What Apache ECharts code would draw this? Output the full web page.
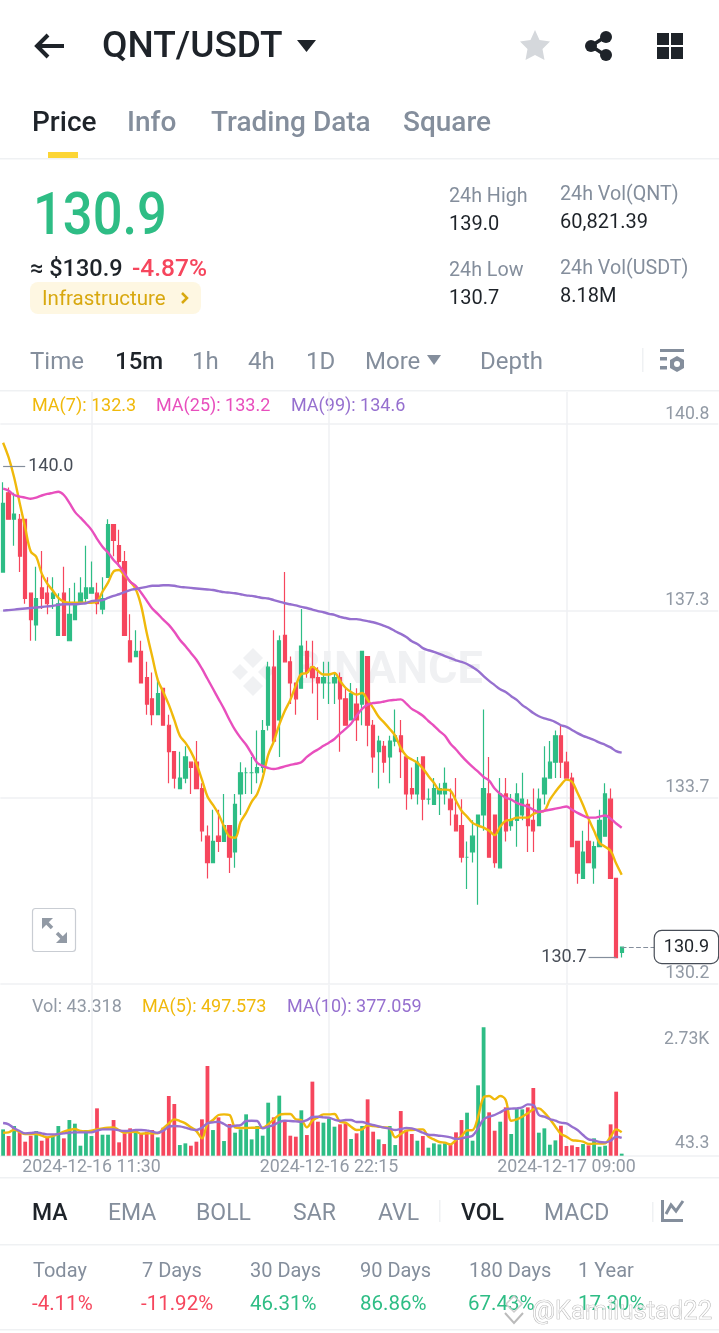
<!DOCTYPE html>
<html>
<head>
<meta charset="utf-8">
<title>QNT/USDT</title>
<style>
html, body { margin: 0; padding: 0; background: #fff; }
#chart { width: 719px; height: 1333px; }
</style>
<script src="https://cdn.jsdelivr.net/npm/echarts@6/dist/echarts.min.js"></script>
</head>
<body>
<div id="chart"></div>
<script>
// 15m candles
var opens = [138.0,139.5,139.0,139.0,139.0,137.6,137.0,137.7,137.6,137.5,136.8,137.6,136.7,137.1,137.4,137.5,137.6,137.6,137.3,137.9,138.9,138.5,138.2,136.7,136.4,136.5,136.0,135.6,135.3,135.8,135.1,134.6,133.9,134.1,134.4,134.4,133.9,133.0,132.5,133.0,132.9,133.2,132.7,133.8,134.2,134.2,134.2,134.3,135.1,136.2,135.2,136.8,136.3,135.9,135.8,136.5,136.2,136.0,135.9,135.9,135.9,136.0,135.6,135.2,135.5,135.5,136.4,135.1,134.6,134.7,134.5,134.8,134.9,134.5,133.9,133.8,134.5,133.7,133.6,133.8,133.8,133.7,133.4,133.2,132.6,132.7,133.2,133.4,133.8,133.4,132.4,133.8,133.2,133.3,133.4,133.6,133.3,133.2,133.8,134.1,134.4,134.9,134.4,134.1,132.9,132.2,132.9,132.4,132.8,133.0,133.7,132.2,130.8];
var closes = [139.3,139.0,139.1,138.3,137.5,137.1,137.5,137.5,137.4,137.6,137.4,136.8,137.2,137.4,137.6,137.7,137.7,137.4,137.5,138.9,138.6,138.2,136.8,136.3,136.5,135.9,135.5,135.3,135.7,135.1,134.6,134.1,134.1,134.5,134.3,133.9,133.1,132.5,132.9,132.9,133.2,132.6,133.6,134.2,134.2,134.2,134.3,135.0,136.2,134.8,136.7,136.3,135.9,135.6,136.6,136.1,136.0,135.9,136.0,135.9,136.0,135.6,135.1,135.7,135.2,136.5,135.1,134.5,134.8,134.4,134.8,134.9,134.6,133.8,133.8,134.4,133.7,133.7,133.9,133.9,134.0,133.5,133.1,132.6,132.6,133.0,133.4,133.9,132.6,132.5,133.8,133.1,133.3,133.8,133.7,133.2,133.1,133.7,134.1,134.4,134.9,134.4,134.1,132.8,132.3,132.7,132.5,132.8,133.3,133.8,132.2,130.7,130.9];
var lows = [138.0,139.0,138.5,138.0,137.4,136.7,136.7,137.3,137.2,137.3,136.8,136.8,136.7,137.1,137.4,137.4,137.6,137.2,137.2,137.9,138.3,138.1,136.8,136.3,136.4,135.9,135.3,135.1,135.3,135.1,134.0,133.9,133.9,134.0,133.8,133.9,132.9,132.2,132.5,132.7,132.9,132.3,132.4,133.4,133.8,133.8,134.0,134.2,135.0,134.8,134.5,136.3,135.5,135.3,135.8,136.0,135.7,135.2,135.6,135.5,135.5,134.6,135.1,135.2,134.8,135.1,134.7,134.2,133.9,134.2,134.0,134.7,134.1,133.5,133.7,133.6,133.3,133.6,133.6,133.4,133.6,133.2,133.1,132.5,132.0,132.5,131.7,133.1,132.6,132.4,132.4,132.9,133.1,132.8,133.3,132.7,132.7,133.2,133.6,134.1,134.1,134.1,134.1,132.8,132.1,132.2,132.5,132.1,132.8,133.0,132.2,130.7,130.7];
var highs = [139.7,139.6,139.5,139.1,139.0,137.6,138.1,138.4,137.9,137.9,137.6,138.1,137.7,137.8,137.9,138.5,138.2,137.8,137.9,139.0,138.9,138.8,138.4,137.2,136.9,136.7,136.3,136.1,136.0,135.8,135.3,134.6,134.6,134.7,134.4,134.8,134.0,133.2,133.5,133.5,133.8,133.2,133.8,134.4,134.3,134.5,135.0,135.2,136.3,136.9,136.8,138.0,136.4,135.9,137.3,136.7,136.7,136.2,136.3,136.3,136.1,136.1,135.8,135.9,135.8,136.5,136.4,135.2,134.9,134.8,134.9,135.4,135.2,134.5,134.3,134.5,134.5,133.9,134.1,134.0,134.3,133.9,134.1,133.7,132.9,133.3,133.4,135.4,134.5,133.4,134.1,134.1,133.8,134.0,134.2,133.7,133.9,133.9,134.7,134.8,135.0,135.1,134.6,134.2,132.9,133.1,133.3,132.9,133.5,134.0,133.9,132.2,130.9];

var ma7 = [140.45,140.17,139.79,139.31,138.84,138.39,138.29,137.97,137.78,137.65,137.51,137.44,137.42,137.42,137.42,137.42,137.42,137.44,137.63,137.80,138.01,138.04,137.93,137.82,137.68,137.36,136.85,136.40,135.96,135.73,135.49,135.20,134.90,134.77,134.60,134.37,134.07,133.75,133.59,133.42,133.18,132.99,132.97,133.27,133.44,133.65,133.80,134.10,134.54,134.79,135.11,135.37,135.58,135.85,136.07,136.09,136.21,136.13,136.06,136.06,136.09,135.94,135.81,135.73,135.68,135.71,135.58,135.43,135.26,135.15,135.03,134.90,134.67,134.52,134.45,134.39,134.28,134.14,134.01,133.88,133.88,133.86,133.67,133.48,133.37,133.25,133.20,133.16,133.10,133.02,133.18,133.29,133.31,133.35,133.35,133.35,133.42,133.46,133.48,133.69,133.84,133.97,134.07,134.03,133.82,133.59,133.33,133.10,132.87,132.80,132.72,132.48,132.27];
var ma25 = [139.58,139.54,139.46,139.43,139.41,139.39,139.41,139.45,139.48,139.50,139.52,139.46,139.31,139.14,139.03,138.92,138.80,138.63,138.48,138.37,138.23,138.12,137.97,137.82,137.74,137.61,137.46,137.31,137.21,137.10,137.00,136.87,136.72,136.60,136.47,136.34,136.17,135.98,135.79,135.60,135.41,135.20,135.01,134.86,134.73,134.56,134.39,134.33,134.29,134.27,134.29,134.32,134.35,134.37,134.40,134.50,134.58,134.64,134.71,134.77,134.84,134.94,135.03,135.13,135.28,135.41,135.49,135.52,135.53,135.55,135.57,135.58,135.59,135.51,135.41,135.35,135.28,135.18,135.09,134.99,134.90,134.75,134.64,134.52,134.41,134.31,134.22,134.12,134.05,133.90,133.80,133.73,133.69,133.63,133.59,133.56,133.50,133.46,133.48,133.50,133.52,133.54,133.56,133.50,133.44,133.39,133.35,133.35,133.37,133.39,133.33,133.24,133.16];
var ma99 = [137.27,137.28,137.29,137.30,137.31,137.32,137.33,137.34,137.35,137.36,137.38,137.39,137.39,137.39,137.40,137.41,137.45,137.46,137.47,137.51,137.55,137.58,137.62,137.66,137.68,137.70,137.72,137.74,137.74,137.75,137.75,137.74,137.72,137.71,137.70,137.69,137.68,137.67,137.66,137.64,137.62,137.61,137.60,137.58,137.56,137.55,137.53,137.51,137.50,137.47,137.44,137.41,137.39,137.37,137.34,137.32,137.29,137.26,137.24,137.21,137.19,137.15,137.13,137.11,137.11,137.09,137.07,137.05,137.02,136.98,136.94,136.88,136.83,136.77,136.69,136.64,136.56,136.52,136.49,136.45,136.41,136.37,136.33,136.30,136.26,136.20,136.13,136.03,135.94,135.86,135.78,135.73,135.65,135.58,135.48,135.41,135.33,135.27,135.23,135.20,135.16,135.10,135.07,135.01,134.95,134.90,134.86,134.82,134.77,134.73,134.68,134.61,134.58];

var volumes = [558,417,629,523,297,424,523,318,403,417,629,368,756,679,212,544,417,1004,445,445,756,283,474,580,488,474,509,544,389,594,1266,1096,226,262,212,297,771,1902,544,813,311,672,488,558,877,346,629,424,1124,813,1273,756,424,403,962,438,1570,721,700,792,615,665,686,354,474,629,1195,509,346,247,629,226,947,544,460,318,417,170,262,240,262,226,495,756,912,318,1492,2722,919,530,721,1025,460,997,983,1025,1435,488,580,233,325,636,205,219,184,247,219,368,191,212,665,1357,43.3];
var volMa5 = [488,495,551,502,460,460,460,424,389,417,460,509,544,566,523,516,530,559,580,594,601,544,488,502,509,467,474,474,474,580,686,771,735,686,601,523,368,672,756,863,877,863,601,587,587,594,594,594,665,771,863,884,884,771,756,601,742,813,877,877,884,721,700,615,544,559,643,629,615,601,580,389,460,530,544,551,559,403,346,290,276,240,332,417,537,544,827,1237,1266,1195,1266,1181,742,771,827,898,983,1004,912,778,615,460,403,332,318,297,247,255,255,262,403,559,497.573];
var volMa10 = [693,665,580,523,474,481,495,474,452,452,460,474,488,495,495,495,495,530,559,559,559,537,523,530,544,544,537,509,488,530,615,629,622,594,559,544,594,686,707,721,672,615,636,650,735,742,735,580,615,650,714,742,735,728,721,756,820,827,813,806,764,742,756,756,714,714,679,650,622,594,573,544,566,587,580,537,488,445,438,424,410,389,354,368,396,424,580,771,827,863,919,983,997,1004,1025,1089,1075,863,827,778,742,700,686,615,544,438,346,325,290,283,318,403,377.059];

var priceTicks = [130.2, 133.73, 137.27, 140.8];
var volTicks = [43.3, 2730];
var timeTicks = [16, 59, 102]; // 11:30, 22:15, 09:00

var totalSlots = 130; // the empty ones leave room on the right of the last candle
var startTime = Date.UTC(2024, 11, 16, 7, 30);

var RED = '#f6465d', GREEN = '#2ebd85', INK = '#1e2329', GREY = '#848e9c', AXIS = '#929aa5', LINE = '#eff1f3';
var YELLOW = '#f0b90b', PINK = '#e84fbd', PURPLE = '#9670cf';
var FONT = 'Roboto';

function pad(n) { return (n < 10 ? '0' : '') + n; }

var categories = [];
for (var i = 0; i < totalSlots; i++) {
	var d = new Date(startTime + i * 900000);
	categories.push(d.getUTCFullYear() + '-' + pad(d.getUTCMonth() + 1) + '-' + pad(d.getUTCDate()) + ' ' + pad(d.getUTCHours()) + ':' + pad(d.getUTCMinutes()));
}

function isTimeTick(idx) { return timeTicks.indexOf(idx) >= 0; }

var candles = opens.map(function(o, i) { return [o, closes[i], lows[i], highs[i]]; });
var volumeBars = volumes.map(function(v, i) {
	return { value: v, itemStyle: { color: closes[i] >= opens[i] ? GREEN : RED } };
});

function text(x, y, str, size, color, weight) {
	return {
		type: 'text', x: x, y: y + 4, silent: true,
		style: { text: str, fontSize: size, fill: color, fontWeight: weight || 400, fontFamily: FONT, verticalAlign: 'middle' }
	};
}
function rect(x, y, w, h, color, r) {
	return { type: 'rect', silent: true, shape: { x: x, y: y, width: w, height: h, r: r || 0 }, style: { fill: color } };
}
function poly(points, color) {
	return { type: 'polygon', silent: true, shape: { points: points }, style: { fill: color } };
}
function stroke(points, color, width) {
	return { type: 'polyline', silent: true, shape: { points: points }, style: { stroke: color, lineWidth: width, fill: null } };
}
function dot(x, y, r, color) {
	return { type: 'circle', silent: true, shape: { cx: x, cy: y, r: r }, style: { fill: color } };
}
function row(y, items, size) {
	return items.map(function(it) { return text(it[0], y, it[1], size, it[2], it[3]); });
}

var bigPrice = text(33, 215, '130.9', 60, GREEN, 500);
bigPrice.scaleX = 0.875;

var chrome = [
	// behind the candles
	poly([[253,648],[263,658],[253,668],[243,658]], '#f0f1f3'),
	poly([[253,676],[263,686],[253,696],[243,686]], '#f0f1f3'),
	poly([[240,664],[248,672],[240,680],[232,672]], '#f0f1f3'),
	poly([[266,664],[274,672],[266,680],[258,672]], '#f0f1f3'),
	text(292, 668, 'BINANCE', 45, '#f0f1f3', 700),

	// header
	stroke([[64,46],[37,46]], INK, 4),
	stroke([[48,35],[37,46],[48,57]], INK, 4),
	text(102, 44, 'QNT/USDT', 37, INK, 500),
	poly([[297,40],[316,40],[306.5,52]], INK),
	poly([[535,30],[539.5,40],[550,41.5],[542.5,49],[544.5,60],[535,55],[525.5,60],[527.5,49],[520,41.5],[530.5,40]], '#d5d8dc'),
	stroke([[605,37],[591,46],[605,55]], INK, 3.5),
	dot(606, 37, 6, INK), dot(591, 46, 6, INK), dot(606, 55, 6, INK),
	rect(657, 33, 12, 12, INK), rect(671, 33, 12, 12, INK), rect(657, 47, 12, 12, INK), rect(671, 47, 12, 12, INK),

	rect(48, 152, 30, 6, '#fcd535'),
	rect(0, 158, 719, 1.5, LINE),

	// price block
	bigPrice,
	text(30, 266, '≈ $130.9', 23.5, INK, 500),
	text(132, 266, '-4.87%', 24.5, RED, 500),
	rect(30, 282, 171, 32, '#fef7e2', 8),
	text(42, 296, 'Infrastructure', 20.5, '#d8a80f'),
	stroke([[182,293],[187,298],[182,303]], '#d8a80f', 2.5),

	rect(0, 390, 719, 1.5, LINE),
	rect(642, 348, 1.5, 24, LINE),
	poly([[427,355],[441,355],[434,365]], GREY),
	// settings icon
	rect(660, 349, 24, 3, GREY), rect(660, 357, 7, 3.5, GREY), rect(660, 366, 7, 3.5, GREY),
	poly([[677,356],[684,360],[684,368],[677,372],[670,368],[670,360]], GREY),
	dot(677, 364, 3, '#fff'),

	// expand button
	{ type: 'rect', silent: true, shape: { x: 32.5, y: 908.5, width: 43, height: 43, r: 3 }, style: { fill: '#fff', stroke: '#c9cdd3', lineWidth: 1.2 } },
	poly([[42,918],[53,918],[42,929]], AXIS),
	stroke([[45,921],[52,928]], AXIS, 3.5),
	poly([[67,943],[56,943],[67,932]], AXIS),
	stroke([[64,940],[57,933]], AXIS, 3.5),

	// bottom bars
	rect(0, 1177, 719, 1.5, LINE),
	rect(439, 1200, 1.5, 22, LINE),
	rect(652, 1202, 1.5, 20, LINE),
	rect(661, 1200, 3, 22, GREY), rect(661, 1219, 22, 3, GREY),
	stroke([[666,1214],[671,1205],[676,1211],[683,1201]], GREY, 3),
	rect(0, 1244, 719, 1.5, LINE),
	rect(0, 1329, 719, 1.5, LINE)
];

chrome = chrome.concat(row(120, [
	[32, 'Price', INK, 500], [127, 'Info', GREY, 500], [211, 'Trading Data', GREY, 500], [403, 'Square', GREY, 500]
], 28));
chrome = chrome.concat(row(193, [[449, '24h High', GREY]], 19.7), row(221, [[449, '139.0', INK]], 20));
chrome = chrome.concat(row(267, [[449, '24h Low', GREY]], 19.7), row(295, [[449, '130.7', INK]], 20));
chrome = chrome.concat(row(191, [[560, '24h Vol(QNT)', GREY]], 19.7), row(219, [[560, '60,821.39', INK]], 20));
chrome = chrome.concat(row(265, [[560, '24h Vol(USDT)', GREY]], 19.7), row(293, [[560, '8.18M', INK]], 20));
chrome = chrome.concat(row(359, [
	[30, 'Time', GREY], [115, '15m', INK, 500], [192, '1h', GREY], [248, '4h', GREY], [306, '1D', GREY], [365, 'More', GREY], [480, 'Depth', GREY]
], 24));
chrome = chrome.concat(row(402, [
	[32, 'MA(7): 132.3', YELLOW], [156, 'MA(25): 133.2', PINK], [291, 'MA(99): 134.6', PURPLE]
], 18));
chrome = chrome.concat(row(1003, [
	[32, 'Vol: 43.318', AXIS], [142, 'MA(5): 497.573', YELLOW], [287, 'MA(10): 377.059', PURPLE]
], 18));
chrome = chrome.concat(row(1210, [
	[32, 'MA', INK, 500], [108, 'EMA', GREY], [196, 'BOLL', GREY], [293, 'SAR', GREY], [378, 'AVL', GREY], [461, 'VOL', INK, 500], [544, 'MACD', GREY]
], 23));
chrome = chrome.concat(row(1268, [
	[33, 'Today', GREY], [142, '7 Days', GREY], [250, '30 Days', GREY], [360, '90 Days', GREY], [469, '180 Days', GREY], [578, '1 Year', GREY]
], 20));
chrome = chrome.concat(row(1301, [
	[32, '-4.11%', RED], [141, '-11.92%', RED], [250, '46.31%', GREEN], [360, '86.86%', GREEN], [468, '67.43%', GREEN], [578, '17.30%', GREEN]
], 20.5));

// repost watermark on top of everything
var stamp = [
	stroke([[505,1313],[514,1323],[523,1313]], '#bbb', 2),
	stroke([[506,1304],[514,1296],[522,1304],[514,1312],[506,1304]], '#ccc', 1.5),
	{ type: 'text', x: 532, y: 1313, silent: true, z: 100, style: { text: '@Kamilustad22', fontSize: 25.5, fontFamily: FONT, fill: 'rgba(255,255,255,0.7)', stroke: '#a8a8a8', lineWidth: 0.7, verticalAlign: 'middle' } }
];
chrome = chrome.concat(stamp);

var chart = echarts.init(document.getElementById('chart'), null, { renderer: 'canvas' });

function maLine(name, data, color, xIdx) {
	return {
		name: name, type: 'line', data: data, xAxisIndex: xIdx, yAxisIndex: xIdx,
		smooth: 0.35, showSymbol: false, silent: true, animation: false,
		lineStyle: { color: color, width: 2.4 }
	};
}

var NOTE = '#474d57';

chart.setOption({
	animation: false,
	backgroundColor: '#fff',
	graphic: { elements: chrome },
	grid: [
		{ left: 0.34, width: 718, top: 392, height: 592 },
		{ left: 0.34, width: 718, top: 985, height: 170.7 }
	],
	xAxis: [
		{
			type: 'category', gridIndex: 0, data: categories,
			axisLine: { show: false }, axisTick: { show: false }, axisLabel: { show: false },
			splitLine: { show: true, alignWithLabel: true, interval: function(idx) { return isTimeTick(idx); }, lineStyle: { color: LINE, width: 1.5 } }
		},
		{
			type: 'category', gridIndex: 1, data: categories,
			axisLine: { show: true, lineStyle: { color: LINE, width: 1.5 } }, axisTick: { show: false },
			axisLabel: { color: AXIS, fontSize: 17.8, fontFamily: FONT, margin: 3, interval: function(idx) { return isTimeTick(idx); } },
			splitLine: { show: true, alignWithLabel: true, interval: function(idx) { return isTimeTick(idx); }, lineStyle: { color: LINE, width: 1.5 } }
		}
	],
	yAxis: [
		{
			type: 'value', gridIndex: 0, position: 'right', min: 130.2, max: 141.41, scale: true,
			axisLine: { show: false },
			axisTick: { show: false, customValues: priceTicks },
			splitLine: { show: true, lineStyle: { color: LINE, width: 1.5 } },
			axisLabel: {
				inside: true, margin: 9, color: AXIS, fontSize: 17.6, fontFamily: FONT, verticalAlign: 'bottom', lineHeight: 20,
				customValues: priceTicks,
				formatter: function(v) { return v.toFixed(1); }
			}
		},
		{
			type: 'value', gridIndex: 1, position: 'right', min: 0, max: 3619,
			axisLine: { show: false },
			axisTick: { show: false },
			splitLine: { show: false },
			axisLabel: {
				inside: true, margin: 9, color: AXIS, fontSize: 17.6, fontFamily: FONT, lineHeight: 20,
				verticalAlignMinLabel: 'bottom', verticalAlignMaxLabel: 'top',
				customValues: volTicks,
				formatter: function(v) { return v >= 1000 ? '{hi|' + (v / 1000).toFixed(2) + 'K}' : v.toFixed(1); },
				rich: { hi: { lineHeight: 26, color: AXIS, fontSize: 17.6, fontFamily: FONT } }
			}
		}
	],
	series: [
		{
			name: 'QNT/USDT', type: 'candlestick', data: candles, xAxisIndex: 0, yAxisIndex: 0,
			barWidth: 3.8, silent: true,
			itemStyle: { color: GREEN, color0: RED, borderColor: GREEN, borderColor0: RED, borderColorDoji: GREEN, borderWidth: 1.2 },
			markLine: {
				silent: true, symbol: 'none', animation: false,
				data: [
					[
						{ xAxis: 0, yAxis: 140.0, lineStyle: { color: GREY, width: 1.2, type: 'solid' }, label: { show: true, position: 'end', distance: 3, formatter: '140.0', color: NOTE, fontSize: 18, fontFamily: FONT } },
						{ xAxis: 4, yAxis: 140.0 }
					],
					[
						{ xAxis: 111, yAxis: 130.7, lineStyle: { color: GREY, width: 1.2, type: 'solid' }, label: { show: true, position: 'end', distance: 2, formatter: '130.7', color: NOTE, fontSize: 18, fontFamily: FONT } },
						{ xAxis: 106, yAxis: 130.7 }
					],
					[
						{ xAxis: 112, yAxis: 130.9, lineStyle: { color: GREY, width: 1.2, type: 'dashed' }, label: { show: true, position: 'end', distance: 0, formatter: '130.9', color: INK, fontSize: 18, fontFamily: FONT, backgroundColor: '#fff', borderColor: NOTE, borderWidth: 1.2, borderRadius: 7, padding: [8, 9, 6, 9] } },
						{ xAxis: 118, yAxis: 130.9 }
					]
				]
			}
		},
		maLine('MA7', ma7, YELLOW, 0),
		maLine('MA25', ma25, PINK, 0),
		maLine('MA99', ma99, PURPLE, 0),
		{
			name: 'Vol', type: 'bar', data: volumeBars, xAxisIndex: 1, yAxisIndex: 1,
			barWidth: 3.8, silent: true
		},
		maLine('MA5', volMa5, YELLOW, 1),
		maLine('MA10', volMa10, PURPLE, 1)
	]
});
</script>
</body>
</html>
